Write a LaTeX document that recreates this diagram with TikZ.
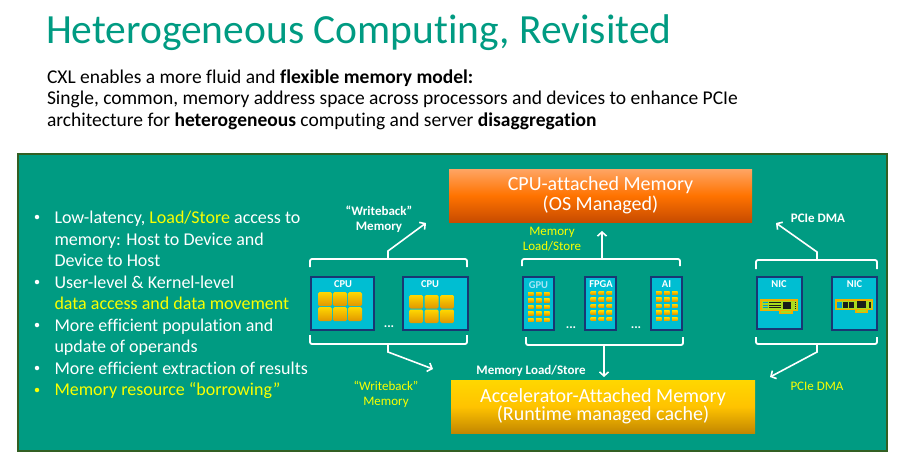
\documentclass[tikz,border=0pt]{standalone}
\usepackage{fontspec}
\setmainfont{Carlito}[Ligatures=NoCommon]
\usetikzlibrary{arrows.meta}
\definecolor{titleteal}{RGB}{0,155,130}
\definecolor{panelfill}{RGB}{0,155,130}
\definecolor{panelborder}{RGB}{50,95,35}
\definecolor{yel}{RGB}{250,255,0}
\definecolor{boxcyan}{RGB}{0,190,210}
\definecolor{boxedge}{RGB}{25,55,115}
\definecolor{orgtop}{RGB}{255,165,100}
\definecolor{orgmid}{RGB}{255,115,0}
\definecolor{orgbot}{RGB}{200,75,0}
\definecolor{yeltop}{RGB}{255,215,0}
\definecolor{yelmid}{RGB}{255,195,0}
\definecolor{yelbot}{RGB}{195,135,0}
\definecolor{coretop}{RGB}{255,215,0}
\definecolor{corebot}{RGB}{225,150,0}
\definecolor{cardedge}{RGB}{240,175,0}
\definecolor{cardlime}{RGB}{170,220,30}
\definecolor{gpulabel}{RGB}{170,230,245}
\definecolor{chipblk}{RGB}{25,30,25}
\definecolor{stripe}{RGB}{0,160,210}
\begin{document}
\begin{tikzpicture}[x=1pt,y=-1pt,
  every node/.style={inner sep=0pt, outer sep=0pt},
  body/.style={anchor=base west, text=white, font=\fontsize{18}{18}\selectfont},
  sub/.style={anchor=base west, text=black, font=\fontsize{19.5}{19.5}\selectfont},
  dot/.style={circle, fill=white, minimum size=4.5pt},
  lblW/.style={anchor=base, text=white, font=\bfseries\fontsize{13}{13}\selectfont},
  lblY/.style={anchor=base, text=yel, font=\fontsize{13}{13}\selectfont},
  dev/.style={draw=boxedge, fill=boxcyan, line width=1.1pt},
  devlbl/.style={anchor=base, text=white, font=\bfseries\fontsize{10.5}{10.5}\selectfont},
  bigtxt/.style={anchor=base, text=white, font=\fontsize{20}{20}\selectfont},
  brk/.style={draw=white, line width=1.8pt, rounded corners=2pt},
  arr/.style={draw=white, line width=1.6pt, -{Straight Barb[length=4pt,width=9pt]}},
  core/.style={top color=coretop, bottom color=corebot, rounded corners=1.5pt},
  mini/.style={top color=coretop, bottom color=corebot},
]
\useasboundingbox (0,0) rectangle (897,458);
\fill[white] (0,0) rectangle (897,458);

% title and subtitle
\node[anchor=base west, text=titleteal, font=\fontsize{41.5}{41.5}\selectfont] (title) at (46,43) {Heterogeneous Computing, Revisited};
\node[sub] (subA) at (47,83) {CXL enables a more fluid and \textbf{flexible memory model:}};
\node[sub] (subB) at (47,104.5) {Single, common, memory address space across processors and devices to enhance PCIe};
\node[sub] (subC) at (47,126) {architecture for \textbf{heterogeneous} computing and server \textbf{disaggregation}};

% panel
\draw[panelborder, line width=2.5pt, fill=panelfill] (18,154) rectangle (887,451);

% bullets
\node[dot] (d1) at (37,217) {};
\node[body] (b1) at (54.5,223) {Low-latency, \textcolor{yel}{Load/Store} access to};
\node[body] (b2) at (54.5,245) {memory: Host to Device and};
\node[body] (b3) at (54.5,266) {Device to Host};
\node[dot] (d2) at (37,282) {};
\node[body] (b4) at (54.5,288) {User-level \& Kernel-level};
\node[body, text=yel] (b5) at (54.5,309.5) {data access and data movement};
\node[dot] (d3) at (37,325) {};
\node[body] (b6) at (54.5,331) {More efficient population and};
\node[body] (b7) at (54.5,352.5) {update of operands};
\node[dot] (d4) at (37,368) {};
\node[body] (b8) at (54.5,374) {More efficient extraction of results};
\node[dot, fill=yel] (d5) at (37,390) {};
\node[body, text=yel] (b9) at (54.5,395.5) {Memory resource “borrowing”};

% memory boxes
\node[top color=orgtop, bottom color=orgbot, middle color=orgmid, minimum width=303pt, minimum height=53pt] (cpumem) at (600.5,195.5) {};
\node[bigtxt] (cpumemA) at (600.5,190) {CPU-attached Memory};
\node[bigtxt] (cpumemB) at (600.5,210) {(OS Managed)};

\node[top color=yeltop, bottom color=yelbot, middle color=yelmid, minimum width=304pt, minimum height=53pt] (accmem) at (603,406.5) {};
\node[bigtxt] (accmemA) at (603,402) {Accelerator-Attached Memory};
\node[bigtxt] (accmemB) at (603,420.5) {(Runtime managed cache)};

% CPU devices
\node[dev, minimum width=63pt, minimum height=53pt] (cpuA) at (342.5,303.5) {};
\node[devlbl] (cpuAl) at (343,287) {CPU};
\foreach \i in {0,1,2}{\foreach \j in {0,1}{\path[core] (318+15*\i, 292+15*\j) rectangle ++(14,14);}}
\node[dev, minimum width=65pt, minimum height=53pt] (cpuB) at (435.5,303.5) {};
\node[devlbl] (cpuBl) at (430,287) {CPU};
\foreach \i in {0,1,2}{\foreach \j in {0,1}{\path[core] (409+15.5*\i, 295+14.5*\j) rectangle ++(14,13.5);}}
\node[lblW] (cpudots) at (389,327) {...};

% accelerators
\node[dev, minimum width=31pt, minimum height=53pt] (gpu) at (538.5,303.5) {};
\node[devlbl, text=gpulabel] (gpul) at (538.5,288) {GPU};
\node[dev, minimum width=31pt, minimum height=53pt] (fpga) at (600.5,303.5) {};
\node[devlbl] (fpgal) at (601,287.5) {FPGA};
\node[dev, minimum width=31pt, minimum height=53pt] (ai) at (666.5,303.5) {};
\node[devlbl] (ail) at (666.5,287.5) {AI};
\foreach \cx/\ty in {538.5/292, 601/291, 666.5/291}{
  \foreach \i in {0,1,2}{\foreach \j in {0,1,2,3,4}{
    \path[mini] (\cx-10.5+8*\i, \ty+6.6*\j) rectangle ++(5.5,3.4);}}}
\node[lblW] (accdotsA) at (571,328.5) {...};
\node[lblW] (accdotsB) at (636,328.5) {...};

% NICs
\node[dev, minimum width=45pt, minimum height=52pt] (nicA) at (779.5,303) {};
\node[devlbl] (nicAl) at (779,287) {NIC};
\node[dev, minimum width=45pt, minimum height=53pt] (nicB) at (854.5,303.5) {};
\node[devlbl] (nicBl) at (854.5,287) {NIC};
\begin{scope}[shift={(760,299)}]
  \fill[cardedge] (19,11) rectangle (33,15);
  \fill[cardlime] (21,11) rectangle (31,13.5);
  \fill[cardedge] (0,0) rectangle (38,12);
  \fill[cardlime] (1.5,1.5) rectangle (36.5,10.5);
  \foreach \yy in {3,5.5,8}{\fill[stripe] (2.5,\yy) rectangle (8,\yy+1.3);\fill[chipblk] (9,\yy) rectangle (21,\yy+1.3);}
  \fill[chipblk] (23,2.5) rectangle (31,9.5);
  \foreach \yy in {2.5,4.5,6.5,8.5}{\fill[chipblk] (34.5,\yy) rectangle (36,\yy+1);}
\end{scope}
\begin{scope}[shift={(835,299)}]
  \fill[cardedge] (20,10) rectangle (33,14);
  \fill[cardlime] (22,10) rectangle (31,12.5);
  \fill[cardedge] (0,0) rectangle (38,11);
  \fill[cardlime] (1.5,1.5) rectangle (36.5,9.5);
  \fill[stripe] (2,2.5) rectangle (7,8.5);
  \fill[chipblk] (8,2.5) rectangle (13,8.5);
  \fill[chipblk] (14,2.5) rectangle (19,8.5);
  \fill[chipblk] (22,2) rectangle (31,9);
  \fill[chipblk] (34,3) rectangle (35.5,8.5);
\end{scope}

% brackets
\draw[brk] (310,267) -- (310,259) -- (467,259) -- (467,267);
\draw[brk] (310,335) -- (310,344) -- (467,344) -- (467,335);
\draw[brk] (522,266) -- (522,259) -- (680,259) -- (680,266);
\draw[brk] (526,337) -- (526,345) -- (683,345) -- (683,337);
\draw[brk] (756,269) -- (756,260) -- (877,260) -- (877,269);
\draw[brk] (756,337) -- (756,344) -- (877,344) -- (877,337);

% connector coordinates
\coordinate (cpuTopMid) at (388,259);
\coordinate (cpuTopTip) at (426,223);
\coordinate (cpuBotMid) at (388,344);
\coordinate (cpuBotTip) at (433,369);
\coordinate (accTopMid) at (602,259);
\coordinate (accTopTip) at (602,231);
\coordinate (accBotMid) at (604,345);
\coordinate (accBotTip) at (604,377);
\coordinate (nicTopMid) at (817,260);
\coordinate (nicTopTip) at (776,223);
\coordinate (nicBotMid) at (817,344);
\coordinate (nicBotTip) at (770,377);

\draw[arr] (cpuTopMid) -- ++(0,-8) -- (cpuTopTip);
\draw[arr] (cpuBotMid) -- ++(0,8) -- (cpuBotTip);
\draw[arr] (accTopMid) -- (accTopTip);
\draw[arr] (accBotMid) -- (accBotTip);
\draw[arr] (nicTopMid) -- ++(0,-8) -- (nicTopTip);
\draw[arr] (nicBotMid) -- ++(0,8) -- (nicBotTip);

% labels
\node[lblW] (wbTopA) at (379,215) {“Writeback”};
\node[lblW] (wbTopB) at (379,230) {Memory};
\node[lblY] (wbBotA) at (386,390) {“Writeback”};
\node[lblY] (wbBotB) at (386,405) {Memory};
\node[lblY] (mlsTopA) at (552,235) {Memory};
\node[lblY] (mlsTopB) at (552,250) {Load/Store};
\node[lblW] (mlsBot) at (531,374) {Memory Load/Store};
\node[lblW] (dmaTop) at (818,222) {PCIe DMA};
\node[lblY] (dmaBot) at (817,390) {PCIe DMA};
\end{tikzpicture}
\end{document}
